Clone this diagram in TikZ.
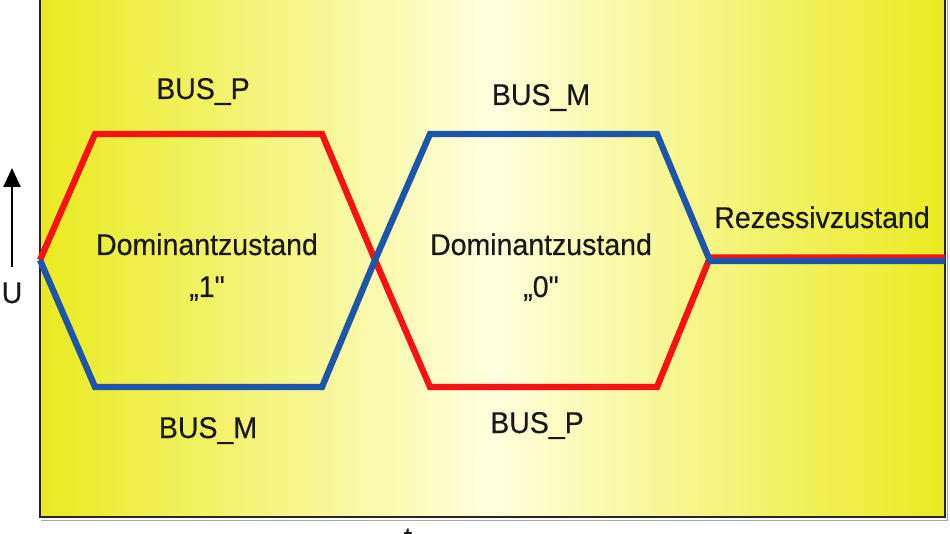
\documentclass[tikz,border=0pt]{standalone}
\usepackage{fontspec}
\setmainfont{Liberation Sans}[FakeStretch=0.95, FakeBold=0.4, Ligatures=TeXOff]
\usetikzlibrary{arrows.meta}
\definecolor{yelA}{RGB}{234,234,32}
\definecolor{yelB}{RGB}{255,255,222}
\definecolor{sigred}{RGB}{250,18,18}
\definecolor{sigblue}{RGB}{28,86,170}
\tikzset{
  lbl/.style={anchor=base, inner sep=0pt, font=\fontsize{30}{36}\selectfont, text=black!90},
  sig/.style={line width=6.3pt, line join=miter, line cap=butt}
}
\begin{document}
\begin{tikzpicture}[x=1pt,y=-1pt]
\useasboundingbox (0,0) rectangle (950,534);
% background panel
\shade[left color=yelA, right color=yelA, middle color=yelB] (40,-10) rectangle (945,517);
\draw[line width=2.6pt, black!85] (40,-10) -- (40,517) -- (945,517) -- (945,-10);
\draw[line width=1pt, black!35] (41,520) -- (947,520) -- (947,-10);
% vertices
\coordinate (s) at (40,260);
\coordinate (a) at (95,134);
\coordinate (b) at (322,134);
\coordinate (c) at (375,260);
\coordinate (d) at (430,387);
\coordinate (e) at (657,387);
\coordinate (f) at (710,257.5);
\coordinate (g) at (945,257.5);
\coordinate (a2) at (95,387);
\coordinate (b2) at (322,387);
\coordinate (d2) at (430,134);
\coordinate (e2) at (657,134);
\coordinate (f2) at (710,261);
\coordinate (g2) at (945,261);
% BUS_P (red)
\draw[sig, sigred] (s) -- (a) -- (b) -- (c) -- (d) -- (e) -- (f) -- (g);
% BUS_M (blue)
\draw[sig, sigblue] (s) -- (a2) -- (b2) -- (c) -- (d2) -- (e2) -- (f2) -- (g2);
% labels
\node[lbl] (busp1) at (203,99) {BUS\_P};
\node[lbl] (busm1) at (541,105) {BUS\_M};
\node[lbl] (busm2) at (208,438) {BUS\_M};
\node[lbl] (busp2) at (537,433) {BUS\_P};
\node[lbl] (dom1) at (207,255) {Dominantzustand};
\node[lbl] (one) at (207,297) {„1"};
\node[lbl] (dom0) at (541,255) {Dominantzustand};
\node[lbl] (zero) at (541,297) {„0"};
\node[lbl] (rez) at (822,228) {Rezessivzustand};
% axis
\node[lbl] (ulbl) at (12,303) {U};
\coordinate (ubot) at (12,267);
\coordinate (utop) at (12,168);
\draw[line width=2.6pt, black, -{Triangle[width=17pt,length=19pt]}] (ubot) -- (utop);
\node[lbl] (tlbl) at (408,548) {t};
\end{tikzpicture}
\end{document}
